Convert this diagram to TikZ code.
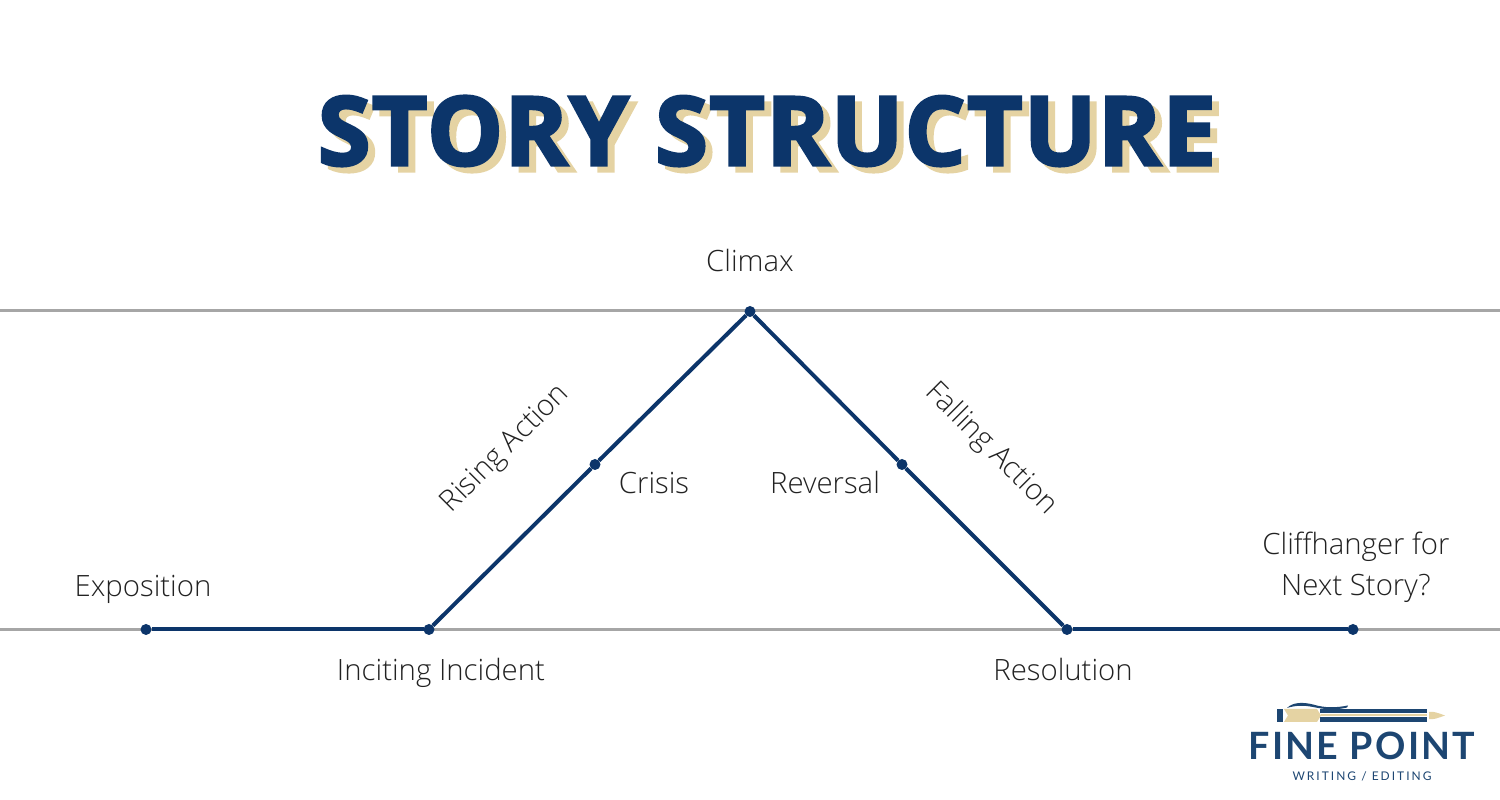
\documentclass[tikz,border=0pt]{standalone}
\usepackage{fontspec}
\setmainfont{Open Sans Light}
\newfontfamily\titlefont{Open Sans Bold}[FakeBold=3,LetterSpace=1.6]
\newfontfamily\logofont{Lato}
\usetikzlibrary{positioning}
\definecolor{storynavy}{HTML}{0C356A}
\definecolor{logonavy}{HTML}{1D4672}
\definecolor{storytan}{HTML}{E5D3A3}
\definecolor{storygray}{HTML}{A6A6A6}
\definecolor{storytext}{HTML}{222222}

\begin{document}
\begin{tikzpicture}[
    plotdot/.style={circle, fill=storynavy, inner sep=0pt, outer sep=0pt, minimum size=0.11cm},
    plotline/.style={draw=storynavy, line width=0.04cm},
    levelline/.style={draw=storygray, line width=0.03cm},
    plotlabel/.style={font=\fontsize{8.35}{11.7}\selectfont, text=storytext, align=center, inner sep=0pt},
    titletext/.style={font=\titlefont\fontsize{27.2}{34}\selectfont, inner sep=0pt}
]
\useasboundingbox (0,0) rectangle (15,8);
\fill[white] (0,0) rectangle (15,8);

% title
\node[titletext, text=storytan] (shadow) at (7.74,6.63) {STORY STRUCTURE};
\node[titletext, text=storynavy] (title) at (7.67,6.69) {STORY STRUCTURE};

% grey levels
\coordinate (topl) at (0,4.895);
\coordinate (topr) at (15,4.895);
\coordinate (botl) at (0,1.705);
\coordinate (botr) at (15,1.705);
\draw[levelline] (topl) -- (topr);
\draw[levelline] (botl) -- (botr);

% plot points
\node[plotdot] (expo) at (1.46,1.705) {};
\node[plotdot] (incite) at (4.29,1.705) {};
\node[plotdot] (crisis) at (5.95,3.355) {};
\node[plotdot] (climax) at (7.50,4.885) {};
\node[plotdot] (reversal) at (9.02,3.355) {};
\node[plotdot] (resol) at (10.67,1.705) {};
\node[plotdot] (cliff) at (13.53,1.705) {};

\draw[plotline] (expo) -- (incite);
\draw[plotline] (incite) -- (crisis);
\draw[plotline] (crisis) -- (climax);
\draw[plotline] (climax) -- (reversal);
\draw[plotline] (reversal) -- (resol);
\draw[plotline] (resol) -- (cliff);

% labels
\node[plotlabel] (lclimax) at (7.50,5.39) {Climax};
\node[plotlabel] (lexpo) at (1.43,2.11) {Exposition};
\node[plotlabel] (lincite) at (4.41,1.27) {Inciting Incident};
\node[plotlabel] (lcrisis) at (6.54,3.17) {Crisis};
\node[plotlabel] (lreversal) at (8.25,3.17) {Reversal};
\node[plotlabel] (lresol) at (10.63,1.30) {Resolution};
\node[plotlabel] (lcliff) at (13.56,2.33) {Cliffhanger for\\Next Story?};
\node[plotlabel, rotate=45] (lrising) at (5.06,3.51) {Rising Action};
\node[plotlabel, rotate=-45] (lfalling) at (9.91,3.51) {Falling Action};

% logo
\fill[logonavy] (12.87,0.92) .. controls (12.93,0.98) and (13.03,0.98) .. (13.13,0.955)
    .. controls (13.25,0.92) and (13.35,0.92) .. (13.48,0.945) -- (13.47,0.925)
    .. controls (13.35,0.895) and (13.25,0.905) .. (13.13,0.93)
    .. controls (13.03,0.95) and (12.95,0.945) .. (12.87,0.92) -- cycle;
\fill[logonavy] (12.77,0.91) -- (12.83,0.91) -- (12.83,0.78) -- (12.77,0.78) -- cycle;
\fill[logonavy] (13.20,0.91) -- (14.27,0.91) -- (14.27,0.865) -- (13.20,0.865) -- cycle;
\fill[logonavy] (13.20,0.825) -- (14.27,0.825) -- (14.27,0.78) -- (13.20,0.78) -- cycle;
\fill[storytan] (12.84,0.91) -- (13.17,0.91) -- (13.21,0.845) -- (13.17,0.78) -- (12.84,0.78) -- (12.88,0.845) -- cycle;
\fill[storytan] (13.21,0.855) -- (14.27,0.855) -- (14.27,0.835) -- (13.21,0.835) -- cycle;
\fill[storytan] (14.29,0.88) .. controls (14.33,0.89) and (14.38,0.87) .. (14.45,0.845)
    .. controls (14.38,0.82) and (14.33,0.80) .. (14.29,0.81) -- cycle;
\node[inner sep=0pt, text=logonavy, font=\logofont\bfseries\fontsize{10.7}{13}\selectfont\addfontfeatures{LetterSpace=6}] (logoname) at (13.62,0.54) {FINE POINT};
\node[inner sep=0pt, text=logonavy, below=0.10cm of logoname, font=\logofont\fontsize{3.4}{5}\selectfont\addfontfeatures{LetterSpace=17}] (logotag) {WRITING / EDITING};
\end{tikzpicture}
\end{document}
